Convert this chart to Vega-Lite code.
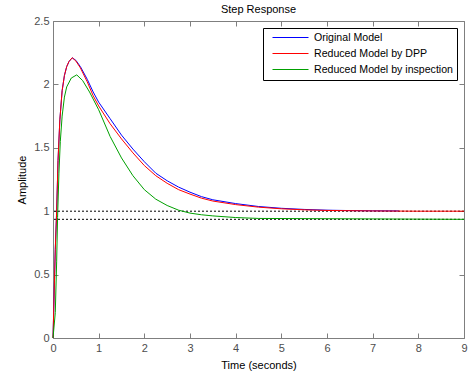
{
  "$schema": "https://vega.github.io/schema/vega-lite/v6.json",
  "width": 411,
  "height": 317,
  "autosize": "none",
  "padding": {"left": 53, "top": 21, "right": 10, "bottom": 34},
  "background": "white",
  "title": {"text": "Step Response", "fontSize": 11, "font": "Liberation Sans", "fontWeight": "normal", "color": "black", "offset": 0},
  "config": {
    "font": "Liberation Sans",
    "view": {"stroke": "#7f7f7f", "strokeWidth": 1}
  },
  "datasets": {
    "curves": [
      {"t": 0, "v": 0, "series": "Original Model"},
      {"t": 0.05, "v": 0.7, "series": "Original Model"},
      {"t": 0.08, "v": 1.0, "series": "Original Model"},
      {"t": 0.11, "v": 1.4, "series": "Original Model"},
      {"t": 0.15, "v": 1.72, "series": "Original Model"},
      {"t": 0.2, "v": 1.95, "series": "Original Model"},
      {"t": 0.25, "v": 2.07, "series": "Original Model"},
      {"t": 0.3, "v": 2.14, "series": "Original Model"},
      {"t": 0.35, "v": 2.18, "series": "Original Model"},
      {"t": 0.42, "v": 2.21, "series": "Original Model"},
      {"t": 0.5, "v": 2.19, "series": "Original Model"},
      {"t": 0.6, "v": 2.14, "series": "Original Model"},
      {"t": 0.75, "v": 2.04, "series": "Original Model"},
      {"t": 0.88, "v": 1.94, "series": "Original Model"},
      {"t": 1.0, "v": 1.86, "series": "Original Model"},
      {"t": 1.25, "v": 1.73, "series": "Original Model"},
      {"t": 1.5, "v": 1.6, "series": "Original Model"},
      {"t": 1.75, "v": 1.49, "series": "Original Model"},
      {"t": 2.0, "v": 1.39, "series": "Original Model"},
      {"t": 2.25, "v": 1.3, "series": "Original Model"},
      {"t": 2.5, "v": 1.24, "series": "Original Model"},
      {"t": 2.75, "v": 1.19, "series": "Original Model"},
      {"t": 3.0, "v": 1.15, "series": "Original Model"},
      {"t": 3.25, "v": 1.115, "series": "Original Model"},
      {"t": 3.5, "v": 1.09, "series": "Original Model"},
      {"t": 4.0, "v": 1.06, "series": "Original Model"},
      {"t": 4.5, "v": 1.037, "series": "Original Model"},
      {"t": 5.0, "v": 1.023, "series": "Original Model"},
      {"t": 5.5, "v": 1.014, "series": "Original Model"},
      {"t": 6.0, "v": 1.008, "series": "Original Model"},
      {"t": 6.5, "v": 1.005, "series": "Original Model"},
      {"t": 7.0, "v": 1.003, "series": "Original Model"},
      {"t": 7.57, "v": 1.002, "series": "Original Model"},
      {"t": 0, "v": 0, "series": "Reduced Model by DPP"},
      {"t": 0.05, "v": 0.7, "series": "Reduced Model by DPP"},
      {"t": 0.08, "v": 1.0, "series": "Reduced Model by DPP"},
      {"t": 0.11, "v": 1.4, "series": "Reduced Model by DPP"},
      {"t": 0.15, "v": 1.72, "series": "Reduced Model by DPP"},
      {"t": 0.2, "v": 1.95, "series": "Reduced Model by DPP"},
      {"t": 0.25, "v": 2.07, "series": "Reduced Model by DPP"},
      {"t": 0.3, "v": 2.14, "series": "Reduced Model by DPP"},
      {"t": 0.35, "v": 2.18, "series": "Reduced Model by DPP"},
      {"t": 0.42, "v": 2.21, "series": "Reduced Model by DPP"},
      {"t": 0.5, "v": 2.185, "series": "Reduced Model by DPP"},
      {"t": 0.6, "v": 2.13, "series": "Reduced Model by DPP"},
      {"t": 0.75, "v": 2.02, "series": "Reduced Model by DPP"},
      {"t": 0.88, "v": 1.91, "series": "Reduced Model by DPP"},
      {"t": 1.0, "v": 1.83, "series": "Reduced Model by DPP"},
      {"t": 1.25, "v": 1.69, "series": "Reduced Model by DPP"},
      {"t": 1.5, "v": 1.57, "series": "Reduced Model by DPP"},
      {"t": 1.75, "v": 1.46, "series": "Reduced Model by DPP"},
      {"t": 2.0, "v": 1.36, "series": "Reduced Model by DPP"},
      {"t": 2.25, "v": 1.28, "series": "Reduced Model by DPP"},
      {"t": 2.5, "v": 1.22, "series": "Reduced Model by DPP"},
      {"t": 2.75, "v": 1.17, "series": "Reduced Model by DPP"},
      {"t": 3.0, "v": 1.135, "series": "Reduced Model by DPP"},
      {"t": 3.25, "v": 1.103, "series": "Reduced Model by DPP"},
      {"t": 3.5, "v": 1.08, "series": "Reduced Model by DPP"},
      {"t": 4.0, "v": 1.052, "series": "Reduced Model by DPP"},
      {"t": 4.5, "v": 1.032, "series": "Reduced Model by DPP"},
      {"t": 5.0, "v": 1.019, "series": "Reduced Model by DPP"},
      {"t": 5.5, "v": 1.011, "series": "Reduced Model by DPP"},
      {"t": 6.0, "v": 1.006, "series": "Reduced Model by DPP"},
      {"t": 7.0, "v": 1.002, "series": "Reduced Model by DPP"},
      {"t": 8.0, "v": 1.0, "series": "Reduced Model by DPP"},
      {"t": 9.0, "v": 1.0, "series": "Reduced Model by DPP"},
      {"t": 0, "v": 0, "series": "Reduced Model by inspection"},
      {"t": 0.05, "v": 0.2, "series": "Reduced Model by inspection"},
      {"t": 0.08, "v": 0.6, "series": "Reduced Model by inspection"},
      {"t": 0.1, "v": 0.95, "series": "Reduced Model by inspection"},
      {"t": 0.13, "v": 1.3, "series": "Reduced Model by inspection"},
      {"t": 0.16, "v": 1.55, "series": "Reduced Model by inspection"},
      {"t": 0.2, "v": 1.75, "series": "Reduced Model by inspection"},
      {"t": 0.25, "v": 1.9, "series": "Reduced Model by inspection"},
      {"t": 0.3, "v": 1.98, "series": "Reduced Model by inspection"},
      {"t": 0.4, "v": 2.05, "series": "Reduced Model by inspection"},
      {"t": 0.52, "v": 2.075, "series": "Reduced Model by inspection"},
      {"t": 0.65, "v": 2.03, "series": "Reduced Model by inspection"},
      {"t": 0.8, "v": 1.94, "series": "Reduced Model by inspection"},
      {"t": 1.0, "v": 1.8, "series": "Reduced Model by inspection"},
      {"t": 1.25, "v": 1.59, "series": "Reduced Model by inspection"},
      {"t": 1.5, "v": 1.42, "series": "Reduced Model by inspection"},
      {"t": 1.75, "v": 1.28, "series": "Reduced Model by inspection"},
      {"t": 2.0, "v": 1.17, "series": "Reduced Model by inspection"},
      {"t": 2.25, "v": 1.095, "series": "Reduced Model by inspection"},
      {"t": 2.5, "v": 1.045, "series": "Reduced Model by inspection"},
      {"t": 2.75, "v": 1.008, "series": "Reduced Model by inspection"},
      {"t": 3.0, "v": 0.985, "series": "Reduced Model by inspection"},
      {"t": 3.25, "v": 0.972, "series": "Reduced Model by inspection"},
      {"t": 3.5, "v": 0.963, "series": "Reduced Model by inspection"},
      {"t": 4.0, "v": 0.95, "series": "Reduced Model by inspection"},
      {"t": 4.5, "v": 0.943, "series": "Reduced Model by inspection"},
      {"t": 9.0, "v": 0.936, "series": "Reduced Model by inspection"}
    ],
    "refs": [
      {"v": 1.0},
      {"v": 0.936}
    ]
  },
  "resolve": {"axis": {"x": "independent", "y": "independent"}},
  "layer": [
    {
      "data": {"name": "refs"},
      "mark": {"type": "rule", "color": "black", "strokeWidth": 1, "strokeDash": [2, 2]},
      "encoding": {
        "y": {"field": "v", "type": "quantitative", "scale": {"domain": [0, 2.5], "nice": false},
          "axis": {"orient": "right", "values": [0, 0.5, 1, 1.5, 2, 2.5], "labels": false, "title": null, "domain": false, "grid": false, "tickSize": -5, "tickColor": "#7f7f7f"}}
      }
    },
    {
      "data": {"name": "curves"},
      "mark": {"type": "point", "opacity": 0},
      "encoding": {
        "x": {"field": "t", "type": "quantitative", "scale": {"domain": [0, 9], "nice": false},
          "axis": {"orient": "top", "values": [0, 1, 2, 3, 4, 5, 6, 7, 8, 9], "labels": false, "title": null, "domain": false, "grid": false, "tickSize": -5, "tickColor": "#7f7f7f"}},
        "y": {"field": "v", "type": "quantitative", "axis": null}
      }
    },
    {
      "data": {"name": "curves"},
      "mark": {"type": "line", "strokeWidth": 1},
      "encoding": {
        "x": {"field": "t", "type": "quantitative", "scale": {"domain": [0, 9], "nice": false},
          "axis": {"orient": "bottom", "values": [0, 1, 2, 3, 4, 5, 6, 7, 8, 9], "title": "Time (seconds)", "titleFont": "Liberation Sans", "titleFontSize": 11, "titleFontWeight": "normal", "titleColor": "black", "titlePadding": 6, "labelFontSize": 11, "labelColor": "#4d4d4d", "labelPadding": 9, "domain": false, "grid": false, "tickSize": -5, "tickColor": "#7f7f7f", "labelFlush": false}},
        "y": {"field": "v", "type": "quantitative", "scale": {"domain": [0, 2.5], "nice": false},
          "axis": {"orient": "left", "values": [0, 0.5, 1, 1.5, 2, 2.5], "format": "~g", "title": "Amplitude", "titleFont": "Liberation Sans", "titleFontSize": 11, "titleFontWeight": "normal", "titleColor": "black", "titlePadding": 6, "labelFontSize": 11, "labelColor": "#4d4d4d", "labelPadding": 9, "domain": false, "grid": false, "tickSize": -5, "tickColor": "#7f7f7f", "labelFlush": false}},
        "color": {"field": "series", "type": "nominal",
          "scale": {"domain": ["Original Model", "Reduced Model by DPP", "Reduced Model by inspection"], "range": ["#0000ff", "#ff0000", "#00a000"]},
          "legend": {"orient": "none", "legendX": 210, "legendY": 7, "title": null, "fillColor": "white", "strokeColor": "black", "padding": 4, "symbolType": "stroke", "symbolSize": 1296, "symbolStrokeWidth": 1, "symbolOffset": 5, "labelOffset": 5, "clipHeight": 11, "rowPadding": 4, "labelFontSize": 10.6, "labelFont": "Liberation Sans", "labelColor": "black"}}
      }
    }
  ]
}
